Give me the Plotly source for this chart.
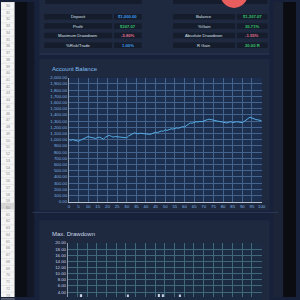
import plotly.graph_objects as go

# ---------------- data ----------------
trade_idx = list(range(0, 101))
balance = [
    1000, 990, 1000, 995, 985, 975, 990, 1005, 1030, 1040, 1050,
    1040, 1030, 1025, 1020, 1035, 1040, 1025, 1010, 1040, 1060,
    1070, 1055, 1040, 1050, 1045, 1050, 1045, 1040, 1035, 1030,
    1060, 1080, 1095, 1110, 1100, 1095, 1105, 1100, 1090, 1085,
    1080, 1085, 1095, 1110, 1120, 1115, 1130, 1140, 1135, 1160,
    1150, 1165, 1175, 1170, 1180, 1190, 1185, 1200, 1210, 1205,
    1230, 1250, 1270, 1265, 1275, 1290, 1285, 1295, 1290, 1305,
    1315, 1325, 1330, 1320, 1310, 1305, 1300, 1295, 1290, 1280,
    1275, 1270, 1280, 1290, 1275, 1285, 1290, 1285, 1280, 1275,
    1295, 1320, 1345, 1365, 1350, 1335, 1325, 1320, 1315, 1307,
]
dd_trades = [7, 31, 47, 49, 58]
dd_values = [3.3, 3.2, 3.4, 3.3, 3.2]

stat_labels_left = ["Deposit", "Profit", "Maximum Drawdown", "%Risk/Trade"]
stat_values_left = ["$1,000.00", "$307.07", "-5.80%", "1.00%"]
stat_labels_right = ["Balance", "%Gain", "Absolute Drawdown", "R Gain"]
stat_values_right = ["$1,307.07", "30.71%", "-1.55%", "20.00 R"]

row_numbers = list(range(30, 74))

balance_ticks = list(range(0, 2001, 100))
dd_ticks = list(range(0, 21, 2))

# ---------------- helpers ----------------
W = H = 300
def X(px):
    return px / W
def Y(py):
    return 1 - py / H

BLUE = "#3d9ef0"
GREEN = "#35c46a"
PINK = "#e0708e"
value_colors_left = [BLUE, GREEN, PINK, BLUE]
value_colors_right = [GREEN, GREEN, PINK, GREEN]

shapes = []
def rect(x0, y0, x1, y1, fill, line=None, lw=0):
    shapes.append(dict(type="rect", xref="paper", yref="paper",
                       x0=X(x0), x1=X(x1), y0=Y(y1), y1=Y(y0),
                       fillcolor=fill, line=dict(width=lw, color=line or fill),
                       layer="below"))
def hline(x0, x1, y, color, lw=1):
    shapes.append(dict(type="line", xref="paper", yref="paper",
                       x0=X(x0), x1=X(x1), y0=Y(y), y1=Y(y),
                       line=dict(width=lw, color=color), layer="below"))
def vline(x, y0, y1, color, lw=1):
    shapes.append(dict(type="line", xref="paper", yref="paper",
                       x0=X(x), x1=X(x), y0=Y(y0), y1=Y(y1),
                       line=dict(width=lw, color=color), layer="below"))

# background structure
rect(0, 0, 14, 300, "#f5f5f5")
for i in range(len(row_numbers) + 1):
    hline(0, 14, 0.6 + i * 6.85, "#dcdcdc", 0.6)
rect(0, 207.5 - 3.4, 14, 207.5 + 3.4, "#d6d6d6")
vline(14, 0, 300, "#bdbdbd", 0.8)
rect(14, 0, 27, 300, "#0b0e15")
rect(27, 0, 34, 300, "#121826")
rect(34, 0, 277, 300, "#18213a")
rect(277, 0, 287, 300, "#1c2538")
rect(287, 0, 300, 300, "#0a0c12")

# cards
rect(39, -5, 273, 53, "#1e2940")
hline(39, 273, 53, "#2c3a55", 1)
rect(39, 58, 273, 212, "#1e2940")
hline(32, 282, 214, "#2c3a55", 1)
rect(39, 222, 273, 305, "#1e2940")

# top partial row
rect(45, -2, 143, 2, "#151c2b")
rect(175, -2, 271, 2, "#151c2b")

# stat boxes
row_y = [15, 24.5, 34, 44]
for yy in row_y:
    rect(44, yy - 2.8, 113, yy + 2.8, "#151c2b")
    rect(115, yy - 2.8, 143, yy + 2.8, "#151c2b")
    rect(175, yy - 2.8, 238, yy + 2.8, "#151c2b")
    rect(240, yy - 2.8, 271, yy + 2.8, "#151c2b")

# plot area backgrounds
rect(69, 77, 265, 203, "#1c2f4f")
rect(68, 245, 265, 305, "#1b2b42")

# red circle
shapes.append(dict(type="circle", xref="paper", yref="paper",
                   x0=X(223), x1=X(251), y0=Y(6), y1=Y(-22),
                   fillcolor="#e85d5d", line=dict(width=0), layer="above"))

annotations = []
def text(px, py, s, color, size, xanchor="center", bold=False):
    annotations.append(dict(x=X(px), y=Y(py), xref="paper", yref="paper",
                            text=("<b>%s</b>" % s) if bold else s, showarrow=False,
                            xanchor=xanchor, yanchor="middle",
                            font=dict(color=color, size=size, family="Liberation Sans, Arial")))

for i, n in enumerate(row_numbers):
    text(7, 4 + i * 6.85, str(n), "#8a8a8a", 3.6)

for i in range(4):
    text(78.5, row_y[i], stat_labels_left[i], "#d8e0ee", 4.2)
    text(129, row_y[i], stat_values_left[i], value_colors_left[i], 4.2, bold=True)
    text(206.5, row_y[i], stat_labels_right[i], "#d8e0ee", 4.2)
    text(255.5, row_y[i], stat_values_right[i], value_colors_right[i], 4.2, bold=True)

text(50, 68, "Account Balance", "#7fbcee", 6, xanchor="left")
text(50, 236, "Max. Drawdown", "#c8d4e4", 6, xanchor="left")

fig = go.Figure()
fig.add_trace(go.Scatter(x=trade_idx, y=balance, mode="lines",
                         line=dict(color="#56aee8", width=1),
                         xaxis="x", yaxis="y", hoverinfo="skip"))
fig.add_trace(go.Bar(x=dd_trades, y=dd_values, width=0.7,
                     marker=dict(color="#c9d6e6", line=dict(width=0)),
                     xaxis="x2", yaxis="y2", hoverinfo="skip"))

tickfont = dict(color="#7fb4e2", size=4.3, family="Liberation Sans, Arial")
fig.update_layout(
    width=W, height=H, margin=dict(l=0, r=0, t=0, b=0),
    paper_bgcolor="#18213a", plot_bgcolor="rgba(0,0,0,0)",
    showlegend=False, shapes=shapes, annotations=annotations,
    xaxis=dict(domain=[X(69), X(265)], anchor="y", range=[0, 100],
               tickmode="array", tickvals=list(range(0, 101, 5)),
               showgrid=True, gridcolor="#44648e", gridwidth=0.7,
               zeroline=False, showline=True, linecolor="#b8c4d4", linewidth=1,
               ticks="", ticklen=0, tickfont=tickfont, fixedrange=True),
    yaxis=dict(domain=[Y(203), Y(77)], anchor="x", range=[0, 2000],
               tickmode="array", tickvals=balance_ticks,
               tickprefix="$", showtickprefix="all", tickformat=",.2f",
               showgrid=True, gridcolor="#44648e", gridwidth=0.7,
               zeroline=False, showline=True, linecolor="#8fa2bc", linewidth=0.8,
               ticks="", tickfont=tickfont, fixedrange=True),
    xaxis2=dict(domain=[X(68), X(265)], anchor="y2", range=[0, 100],
                tickmode="array", tickvals=list(range(0, 101, 5)),
                showgrid=True, gridcolor="#41677a", gridwidth=0.7,
                zeroline=False, showticklabels=False, fixedrange=True),
    yaxis2=dict(domain=[0, Y(245)], anchor="x2", range=[2.4, 20],
                tickmode="array", tickvals=dd_ticks,
                ticksuffix="%", tickformat=".2f",
                showgrid=True, gridcolor="#41677a", gridwidth=0.7,
                zeroline=False, showline=True, linecolor="#8a9bb0", linewidth=1,
                ticks="", tickfont=dict(color="#c8d4e4", size=4.3, family="Liberation Sans, Arial"),
                fixedrange=True),
    bargap=0.3,
)

fig.write_html("out.html", config={"displayModeBar": False})
